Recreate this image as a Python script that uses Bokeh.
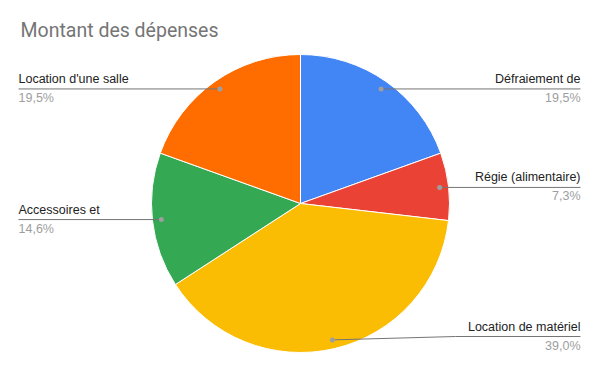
import math
from bokeh.plotting import figure
from bokeh.models import Range1d, ColumnDataSource
from bokeh.core.properties import value
from bokeh.embed import file_html
from bokeh.resources import INLINE

# ---- data ----
title = "Montant des dépenses"
categories = ["Défraiement de", "Régie (alimentaire)", "Location de matériel", "Accessoires et", "Location d'une salle"]
amounts = [8, 3, 16, 6, 8]
colors = ["#4285F4", "#EA4335", "#FBBC04", "#34A853", "#FF6D01"]

# ---- layout (screen pixel coordinates of the window) ----
W, H = 600, 371
PW, PH = 584, 355
CX, CY, R = 300, 203, 149
LEFT_X, RIGHT_X = 18, 580
BOTTOM_LIMIT = 336

def Y(py):
    return H - py

p = figure(width=PW, height=PH, output_backend="svg", toolbar_location=None,
           x_range=Range1d(0, PW), y_range=Range1d(H - PH, H), min_border=0)
p.axis.visible = False
p.grid.visible = False
p.outline_line_color = None
p.background_fill_color = "white"
p.border_fill_color = "white"

total = sum(amounts)
starts, ends, mids, pcts = [], [], [], []
cum = 0
for a in amounts:
    f0 = cum / total
    cum += a
    f1 = cum / total
    starts.append(math.pi / 2 - 2 * math.pi * f0)
    ends.append(math.pi / 2 - 2 * math.pi * f1)
    mids.append((f0 + f1) / 2)
    pcts.append(("%.1f%%" % (100 * a / total)).replace(".", ","))

src = ColumnDataSource(dict(start=starts, end=ends, color=colors))
p.wedge(x=CX, y=Y(CY), radius=R, start_angle="start", end_angle="end",
        direction="clock", fill_color="color", line_color="white", line_width=1, source=src)

# labels
for name, pct, m in zip(categories, pcts, mids):
    ang = 2 * math.pi * m
    dx = math.sin(ang) * 0.94 * R
    dy = -math.cos(ang) * 0.94 * R
    px, py = CX + dx, CY + dy
    ly = min(py, BOTTOM_LIMIT)
    right = dx > 0
    if right:
        if ly != py:
            bend_x = px + 123
            xs = [px, bend_x, RIGHT_X]
            ys = [Y(py), Y(ly), Y(ly)]
        else:
            xs = [px, RIGHT_X]
            ys = [Y(py), Y(ly)]
        tx, align = RIGHT_X, "right"
    else:
        xs = [LEFT_X, px]
        ys = [Y(ly), Y(py)]
        tx, align = LEFT_X, "left"
    p.line(xs, ys, line_color="#757575", line_width=1)
    p.scatter([px], [Y(py)], size=5, fill_color="#9e9e9e", line_color=None)
    p.text([tx], [Y(ly - 3)], text=[name], text_align=align, text_baseline="bottom",
           text_font=value("Liberation Sans"), text_font_size="12.5px", text_color="#222222")
    p.text([tx], [Y(ly + 2)], text=[pct], text_align=align, text_baseline="top",
           text_font=value("Liberation Sans"), text_font_size="12.5px", text_color="#9e9e9e")

p.text([20], [Y(18)], text=[title], text_align="left", text_baseline="top",
       text_font=value("Roboto"), text_font_size="19.5px", text_color="#757575")

open("out.html", "w").write(file_html(p, INLINE))
